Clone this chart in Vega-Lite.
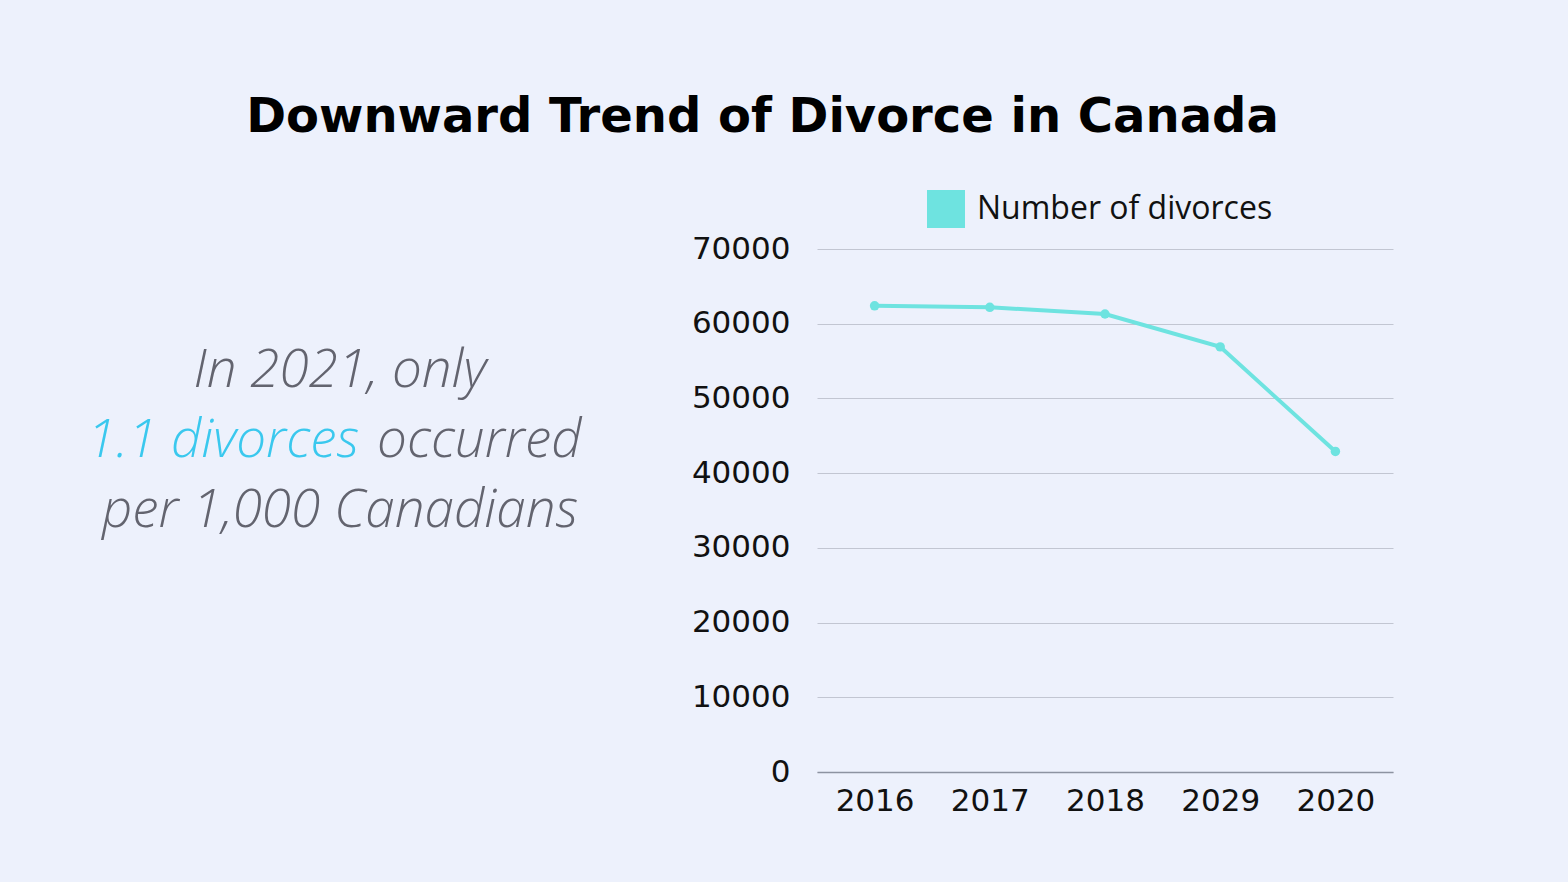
{
  "$schema": "https://vega.github.io/schema/vega-lite/v6.json",
  "background": "#edf1fc",
  "padding": {"left": 0, "top": 94, "right": 175, "bottom": 68},
  "title": {
    "text": "Downward Trend of Divorce in Canada",
    "anchor": "middle",
    "font": "DejaVu Sans",
    "fontWeight": "bold",
    "fontSize": 48,
    "color": "#000000",
    "dx": 66,
    "offset": 48
  },
  "datasets": {
    "divorces": [
      {"year": "2016", "divorces": 62400},
      {"year": "2017", "divorces": 62200},
      {"year": "2018", "divorces": 61300},
      {"year": "2029", "divorces": 56900},
      {"year": "2020", "divorces": 42900}
    ],
    "note": [
      {"line": 1, "part": "plain", "text": "In 2021, only"},
      {"line": 2, "part": "highlight", "text": "1.1 divorces"},
      {"line": 2, "part": "tail", "text": "occurred"},
      {"line": 3, "part": "plain", "text": "per 1,000 Canadians"}
    ]
  },
  "spacing": 11,
  "hconcat": [
    {
      "width": 680,
      "height": 523,
      "data": {"name": "note"},
      "encoding": {
        "y": {
          "field": "line",
          "type": "quantitative",
          "scale": {"domain": [-0.971, 6.5], "reverse": true},
          "axis": null
        },
        "text": {"field": "text"}
      },
      "layer": [
        {
          "transform": [{"filter": "datum.part === 'plain'"}],
          "mark": {"type": "text", "align": "center", "baseline": "alphabetic", "font": "Open Sans", "fontStyle": "italic", "fontWeight": 300, "fontSize": 53, "color": "#63646f"}
        },
        {
          "transform": [{"filter": "datum.part === 'highlight'"}],
          "mark": {"type": "text", "align": "right", "baseline": "alphabetic", "dx": 19, "font": "Open Sans", "fontStyle": "italic", "fontWeight": 300, "fontSize": 53, "color": "#3ac8ee"}
        },
        {
          "transform": [{"filter": "datum.part === 'tail'"}],
          "mark": {"type": "text", "align": "left", "baseline": "alphabetic", "dx": 37, "font": "Open Sans", "fontStyle": "italic", "fontWeight": 300, "fontSize": 53, "color": "#63646f"}
        }
      ]
    },
    {
      "width": 576,
      "height": 523,
      "data": {"name": "divorces"},
      "encoding": {
        "x": {
          "field": "year",
          "type": "ordinal",
          "sort": null,
          "axis": {
            "title": null,
            "labelAngle": 0,
            "ticks": false,
            "domainColor": "#8d93a1",
            "domainWidth": 1.5,
            "labelFont": "DejaVu Sans",
            "labelFontSize": 31,
            "labelColor": "#111111",
            "labelPadding": 14
          }
        },
        "y": {
          "field": "divorces",
          "type": "quantitative",
          "scale": {"domain": [0, 70000]},
          "axis": {
            "title": null,
            "values": [0, 10000, 20000, 30000, 40000, 50000, 60000, 70000],
            "format": "d",
            "domain": false,
            "ticks": false,
            "gridColor": "#c2c6d2",
            "gridWidth": 1,
            "gridOpacity": 1,
            "labelFont": "DejaVu Sans",
            "labelFontSize": 31,
            "labelColor": "#111111",
            "labelPadding": 27
          }
        },
        "color": {
          "datum": "Number of divorces",
          "type": "nominal",
          "scale": {"range": ["#6ee3e0"]},
          "legend": {
            "title": null,
            "orient": "none",
            "legendX": 927,
            "legendY": -59,
            "symbolType": "square",
            "symbolSize": 1444,
            "symbolFillColor": "#6ee6e6",
            "symbolStrokeWidth": 0,
            "labelFont": "Open Sans",
            "labelFontSize": 32,
            "labelLimit": 500,
            "labelColor": "#111111",
            "labelOffset": 12
          }
        }
      },
      "layer": [
        {"mark": {"type": "line", "strokeWidth": 4}},
        {"mark": {"type": "point", "filled": true, "opacity": 1, "size": 90}}
      ]
    }
  ],
  "config": {
    "view": {"stroke": null}
  }
}
